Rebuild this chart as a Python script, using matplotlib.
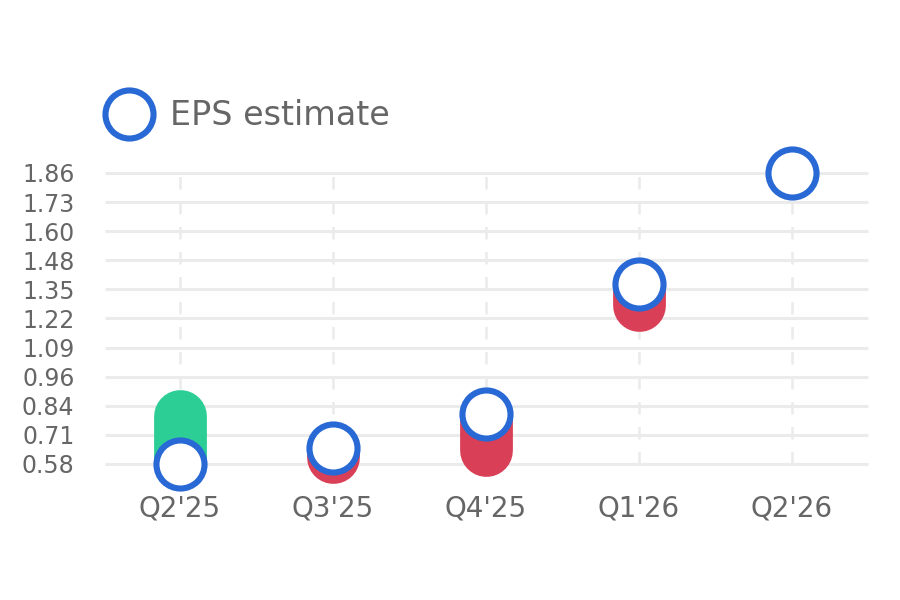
import numpy as np
import matplotlib
matplotlib.use("Agg")
import matplotlib.pyplot as plt

# data
quarters = ["Q2'25", "Q3'25", "Q4'25", "Q1'26", "Q2'26"]
eps_estimate = [0.58, 0.65, 0.80, 1.37, 1.86]
eps_actual = [0.79, 0.61, 0.64, 1.28, np.nan]

green = '#2DCE96'
red = '#D93F56'
blue = '#2869D5'
grid_col = '#ebebeb'
text_col = '#666666'

fig = plt.figure(figsize=(9, 6), dpi=100)
ax = fig.add_axes([0.1167, 0.2267, 0.848, 0.485])

x = np.arange(len(quarters))

# dashed vertical guides
for xi in x:
    ax.axvline(xi, color=grid_col, lw=1.8, linestyle=(0, (5, 5)), zorder=0)

# horizontal grid
lo = np.nanmin(eps_estimate + eps_actual)
hi = np.nanmax(eps_estimate + eps_actual)
yticks = np.linspace(lo, hi, 11)
for yt in yticks:
    ax.axhline(yt, color=grid_col, lw=2.2, zorder=0, clip_on=False,
               solid_capstyle='butt')

# capsules between estimate and actual
for xi, est, act in zip(x, eps_estimate, eps_actual):
    if np.isnan(act):
        continue
    col = green if act >= est else red
    ax.plot([xi, xi], [est, act], color=col, lw=38.0,
            solid_capstyle='round', zorder=2, clip_on=False)

ax.plot(x, eps_estimate, linestyle='none', marker='o', markersize=34.6,
        markerfacecolor='white', markeredgecolor=blue, markeredgewidth=4.4,
        zorder=3, clip_on=False, label='EPS estimate')

ax.set_xlim(-0.49, 4.5)
ax.set_ylim(lo, hi)
ax.set_yticks(yticks)
ax.set_yticklabels(['%.2f' % v for v in yticks])
ax.set_xticks(x)
ax.set_xticklabels(quarters)
ax.tick_params(axis='y', length=0, pad=22, labelsize=17, labelcolor=text_col)
ax.tick_params(axis='x', length=0, pad=22, labelsize=20, labelcolor=text_col)
for s in ax.spines.values():
    s.set_visible(False)

ax.legend(loc='lower left', bbox_to_anchor=(0.01, 1.14), frameon=False,
          fontsize=24, labelcolor=text_col, handlelength=1.0,
          handletextpad=0.72, borderpad=0, borderaxespad=0)

fig.savefig('out.png', dpi=100, facecolor='white')
